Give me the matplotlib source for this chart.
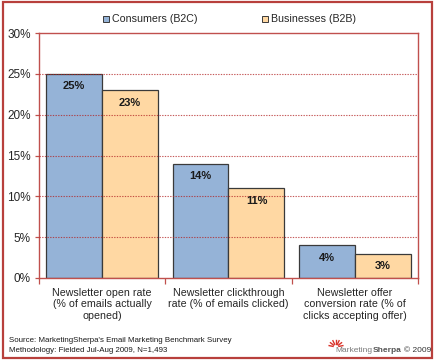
import matplotlib.pyplot as plt
from matplotlib import rcParams
from matplotlib.patches import Rectangle
import numpy as np

# data
categories = ["Newsletter open rate\n(% of emails actually\nopened)",
              "Newsletter clickthrough\nrate (% of emails clicked)",
              "Newsletter offer\nconversion rate (% of\nclicks accepting offer)"]
series_names = ["Consumers (B2C)", "Businesses (B2B)"]
consumers = [25, 14, 4]
businesses = [23, 11, 3]
y_ticks = [0, 5, 10, 15, 20, 25, 30]

rcParams["font.family"] = ["Liberation Sans", "DejaVu Sans"]
rcParams["font.size"] = 8

red = "#C0504D"
txt = "#262626"
blue = "#95B3D7"
orange = "#FFD8A3"

fig = plt.figure(figsize=(4.35, 3.6), dpi=100)
fig.patches.append(Rectangle((0.006, 0.006), 0.988, 0.988, transform=fig.transFigure,
                             fill=False, edgecolor="#B8403C", linewidth=1.6))

ax = fig.add_axes([39 / 435, 1 - 278 / 360, 379 / 435, 245 / 360])
x = np.arange(len(categories))
w = 0.443
b1 = ax.bar(x - w / 2, consumers, w, color=blue, edgecolor="#3A3A3A", linewidth=0.9, zorder=2)
b2 = ax.bar(x + w / 2, businesses, w, color=orange, edgecolor="#3A3A3A", linewidth=0.9, zorder=2)

for bars, vals in ((b1, consumers), (b2, businesses)):
    for r, v in zip(bars, vals):
        ax.annotate(f"{v}%", (r.get_x() + r.get_width() / 2, v), xytext=(0, -9),
                    textcoords="offset points", ha="center", va="center",
                    fontsize=8, fontweight="bold", color="#1a1a1a", zorder=4)

ax.set_xlim(-0.5, 2.5)
ax.set_ylim(0, 30)
ax.set_yticks(y_ticks)
ax.set_yticklabels([f"{t}%" for t in y_ticks], color=txt, fontsize=8.5)
for t in y_ticks[1:-1]:
    ax.axhline(t, color="#B22222", linestyle=(0, (1.2, 1.2)), linewidth=0.8, alpha=0.75, zorder=3)

ax.set_xticks(x)
ax.set_xticklabels(categories, color=txt, fontsize=7.7, linespacing=1.2)
ax.tick_params(axis="x", which="major", length=0, pad=7)
ax.set_xticks([-0.5, 0.5, 1.5, 2.5], minor=True)
ax.tick_params(axis="x", which="minor", length=4, color=red, width=0.9)
ax.tick_params(axis="y", length=3, color=red, width=0.9, pad=3)
for s in ax.spines.values():
    s.set_color(red)
    s.set_linewidth(1.0)

# legend
lx = [103, 262]
for px, name, c in zip(lx, series_names, (blue, orange)):
    fig.patches.append(Rectangle((px / 435, 1 - 22 / 360), 6 / 435, 6 / 360,
                                 transform=fig.transFigure, facecolor=c,
                                 edgecolor="#3A3A3A", linewidth=0.7))
    fig.text((px + 9) / 435, 1 - 18.5 / 360, name, fontsize=7.7, color=txt,
             ha="left", va="center")

# footer
fig.text(9 / 435, 1 - 341 / 360, "Source: MarketingSherpa's Email Marketing Benchmark Survey",
         fontsize=5.7, color="#1a1a1a", va="center")
fig.text(9 / 435, 1 - 350.5 / 360, "Methodology: Fielded Jul-Aug 2009, N=1,493",
         fontsize=5.7, color="#1a1a1a", va="center")

# logo
cx, cy = 336 / 435, 1 - 347 / 360
for a in np.linspace(0.2, np.pi - 0.2, 7):
    fig.add_artist(plt.Line2D([cx + 3 / 435 * np.cos(a), cx + 7 / 435 * np.cos(a)],
                              [cy + 3 / 360 * np.sin(a), cy + 7 / 360 * np.sin(a)],
                              transform=fig.transFigure, color="#D9342B", linewidth=1.0))
fig.text(373 / 435, 1 - 350 / 360, "Marketing", fontsize=6.0, color="#7a7a7a",
         ha="right", va="center")
fig.text(373 / 435, 1 - 350 / 360, "Sherpa", fontsize=6.0, color="#555555",
         fontweight="bold", ha="left", va="center")
fig.text(431 / 435, 1 - 350 / 360, "\u00a9 2009", fontsize=6.0, color="#333333",
         ha="right", va="center")

plt.savefig("out.png", dpi=100)
